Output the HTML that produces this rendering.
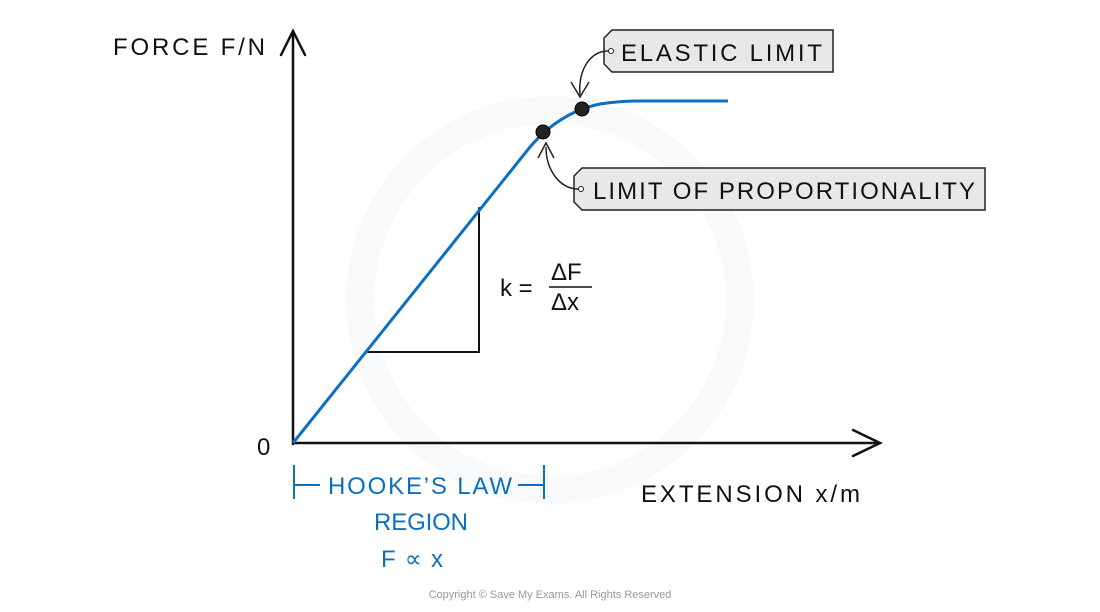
<!DOCTYPE html>
<html><head><meta charset="utf-8"><style>
body{margin:0;width:1100px;height:607px;background:#fff;overflow:hidden}
svg text{font-family:"Liberation Sans",sans-serif}
</style></head><body>
<svg width="1100" height="607" viewBox="0 0 1100 607">
<circle cx="550" cy="300" r="190" fill="none" stroke="#f7f9fb" stroke-width="28"/>
<!-- axes -->
<g stroke="#111" stroke-width="2.5" fill="none" stroke-linecap="round">
<line x1="293" y1="444" x2="293" y2="32"/>
<polyline points="281,55 293,31 305,55"/>
<line x1="293" y1="443" x2="880" y2="443"/>
<polyline points="853,430 880,443 853,456"/>
<polyline points="479,208 479,352 368,352" stroke-width="2"/>
</g>
<path d="M293,443 L530,147 Q560,112 600,104 Q620,101 640,101 L728,101" fill="none" stroke="#0b6fc2" stroke-width="3"/>
<circle cx="543" cy="132" r="7" fill="#222" stroke="#000"/>
<circle cx="582" cy="109" r="7" fill="#222" stroke="#000"/>
<!-- labels -->
<g stroke="#222" stroke-width="1.5" fill="#e8e8e8">
<path d="M612,30 L833,30 L833,72 L612,72 L604,64 L604,38 Z"/>
<path d="M582,168 L985,168 L985,210 L582,210 L574,202 L574,176 Z"/>
</g>
<g stroke="#222" stroke-width="1.5" fill="none">
<path d="M610,51 C590,50 578,70 580,95"/><polyline points="571,82 580,97 589,82"/>
<path d="M580,189 C560,190 546,170 546,147"/><polyline points="538,158 546,143 554,158"/>
</g>
<circle cx="611" cy="51" r="2.5" fill="#fff" stroke="#222"/>
<circle cx="581" cy="189" r="2.5" fill="#fff" stroke="#222"/>
<g font-size="24" fill="#111">
<text x="621" y="61" textLength="201" lengthAdjust="spacing">ELASTIC  LIMIT</text>
<text x="593" y="199" textLength="382" lengthAdjust="spacing">LIMIT  OF  PROPORTIONALITY</text>
<text x="113" y="55" textLength="152" lengthAdjust="spacing">FORCE F/N</text>
<text x="641" y="502" textLength="219" lengthAdjust="spacing">EXTENSION x/m</text>
<text x="257" y="455">0</text>
<text x="500" y="296">k =</text>
<text x="551" y="280">ΔF</text>
<text x="551" y="310">Δx</text>
</g>
<line x1="549" y1="287" x2="592" y2="287" stroke="#111" stroke-width="1.5"/>
<!-- Hooke's -->
<g stroke="#0b6fc2" stroke-width="2" fill="none">
<line x1="294" y1="465" x2="294" y2="499"/><line x1="294" y1="485" x2="320" y2="485"/>
<line x1="518" y1="485" x2="544" y2="485"/><line x1="544" y1="465" x2="544" y2="499"/>
</g>
<g font-size="24" fill="#0b6fc2">
<text x="328" y="494" textLength="184" lengthAdjust="spacing">HOOKE’S  LAW</text>
<text x="374" y="530" textLength="94" lengthAdjust="spacing">REGION</text>
<text x="381" y="567" textLength="62" lengthAdjust="spacing">F ∝ x</text>
</g>
<text x="550" y="598" font-size="11" fill="#999" text-anchor="middle">Copyright © Save My Exams. All Rights Reserved</text>
</svg>
</body></html>
